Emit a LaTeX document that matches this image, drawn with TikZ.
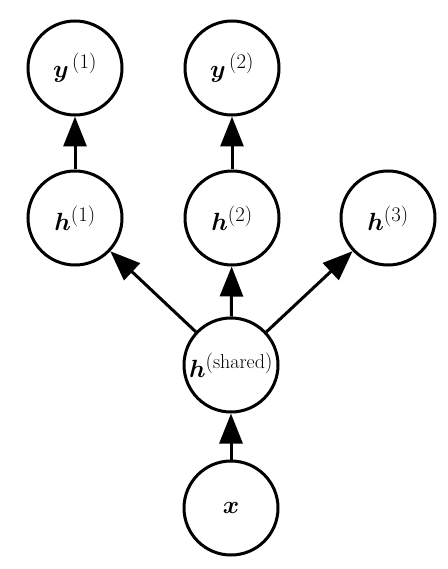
\documentclass[tikz,border=0pt]{standalone}
\usepackage{amsmath,amssymb,bm}
\DeclareMathSizes{27}{27}{20}{15}
\usetikzlibrary{arrows.meta}
\begin{document}
\begin{tikzpicture}[x=1pt,y=-1pt,
  unit/.style={circle,draw,line width=3pt,minimum size=94pt,inner sep=0pt,font=\fontsize{27}{32}\selectfont},
  arr/.style={line width=3pt,-{Triangle[width=23pt,length=30pt]}}]
\useasboundingbox (0,0) rectangle (447,569);
\node[unit] (y1) at (75,68) {$\bm{y}^{\,(1)}$};
\node[unit] (y2) at (232,68) {$\bm{y}^{\,(2)}$};
\node[unit] (h1) at (75,218) {$\bm{h}^{(1)}$};
\node[unit] (h2) at (232,218) {$\bm{h}^{(2)}$};
\node[unit] (h3) at (388,218) {$\bm{h}^{(3)}$};
\node[unit] (hs) at (231,365) {$\bm{h}^{(\text{shared})}$};
\node[unit] (x) at (231,508) {$\bm{x}$};
\draw[arr] (h1) -- (y1);
\draw[arr] (h2) -- (y2);
\draw[arr] (hs) -- (h1);
\draw[arr] (hs) -- (h2);
\draw[arr] (hs) -- (h3);
\draw[arr] (x) -- (hs);
\end{tikzpicture}
\end{document}
